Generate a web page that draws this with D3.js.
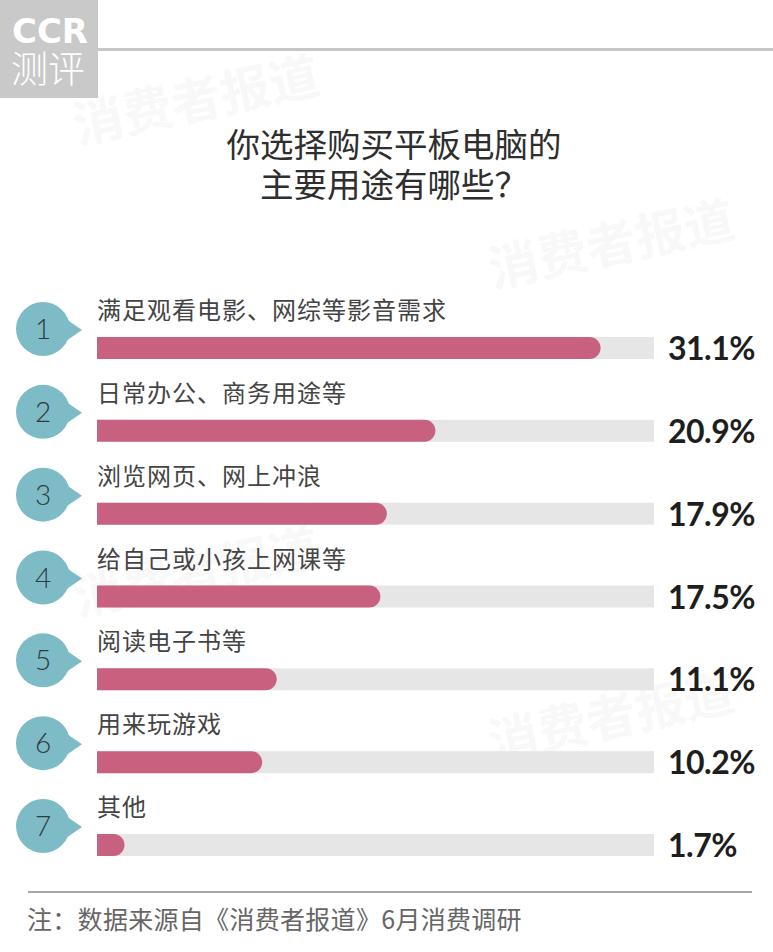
<!DOCTYPE html>
<html>
<head>
<meta charset="utf-8">
<script src="https://cdn.jsdelivr.net/npm/d3@7"></script>
<style>
  body { margin: 0; background: #fff; }
  svg { display: block; font-family: "Noto Sans CJK SC", "Noto Sans", sans-serif; }
</style>
</head>
<body>
<div id="chart"></div>
<script>
// Data
const categories = ["满足观看电影、网综等影音需求", "日常办公、商务用途等", "浏览网页、网上冲浪",
  "给自己或小孩上网课等", "阅读电子书等", "用来玩游戏", "其他"];
const values = [31.1, 20.9, 17.9, 17.5, 11.1, 10.2, 1.7];
const ranks = ["1", "2", "3", "4", "5", "6", "7"];
const titleLines = ["你选择购买平板电脑的", "主要用途有哪些？"];
const footnote = "注：数据来源自《消费者报道》6月消费调研";

const width = 773, height = 952;
const svg = d3.select("#chart").append("svg")
    .attr("width", width)
    .attr("height", height);

// faint watermarks
const marks = [[200, 118], [615, 262], [200, 590], [615, 735]];
svg.selectAll(".wm")
    .data(marks)
    .enter()
    .append("text")
    .attr("class", "wm")
    .attr("transform", d => `translate(${d[0]},${d[1]}) rotate(-12)`)
    .attr("text-anchor", "middle")
    .attr("font-size", 50)
    .attr("font-weight", "bold")
    .attr("fill", "#f8f8f8")
    .text("消费者报道");

// logo block + top rule
svg.append("rect").attr("x", 0).attr("y", 0).attr("width", 98).attr("height", 98).attr("fill", "#c9c9c9");
svg.append("rect").attr("x", 98).attr("y", 48).attr("width", width - 98).attr("height", 3).attr("fill", "#c6c6c6");
svg.append("text")
    .attr("x", 12).attr("y", 43)
    .attr("font-family", "DejaVu Sans")
    .attr("font-weight", "bold")
    .attr("font-size", 34)
    .attr("textLength", 76)
    .attr("lengthAdjust", "spacingAndGlyphs")
    .attr("fill", "#fff")
    .text("CCR");
svg.append("text")
    .attr("x", 11).attr("y", 83)
    .attr("font-size", 37)
    .attr("font-weight", 300)
    .attr("fill", "#fff")
    .text("测评");

// title
svg.selectAll(".title")
    .data(titleLines)
    .enter()
    .append("text")
    .attr("class", "title")
    .attr("x", 394)
    .attr("y", (d, i) => 157 + i * 40)
    .attr("text-anchor", "middle")
    .attr("font-size", 33.5)
    .attr("fill", "#2e2e2e")
    .text(d => d);

// scales
const x = d3.scaleLinear().domain([0, 34.4]).range([97, 654]);
const y = d3.scalePoint().domain(categories).range([337, 834]);
const barH = 22;

const rows = svg.selectAll(".row")
    .data(categories.map((c, i) => ({ cat: c, value: values[i], rank: ranks[i] })))
    .enter()
    .append("g")
    .attr("class", "row")
    .attr("transform", d => `translate(0,${y(d.cat)})`);

// speech-bubble badge
rows.append("path")
    .attr("d", "M 66 -18 L 82 -7 L 66 4 Z")
    .attr("fill", "#7dbcc6");
rows.append("circle")
    .attr("cx", 43).attr("cy", -8).attr("r", 27)
    .attr("fill", "#7dbcc6");
rows.append("text")
    .attr("x", 43).attr("y", 2)
    .attr("text-anchor", "middle")
    .attr("font-family", "Lato, 'Open Sans', sans-serif")
    .attr("font-size", 28)
    .attr("font-weight", 300)
    .attr("fill", "#2f3a3c")
    .text(d => d.rank);

// label
rows.append("text")
    .attr("x", 97).attr("y", -18)
    .attr("font-size", 24)
    .attr("letter-spacing", 1)
    .attr("fill", "#444")
    .text(d => d.cat);

// track
rows.append("rect")
    .attr("x", x(0)).attr("y", 0)
    .attr("width", x(34.4) - x(0))
    .attr("height", barH)
    .attr("fill", "#e6e6e6");

// bar with rounded right end
rows.append("path")
    .attr("fill", "#c8617f")
    .attr("d", d => {
        const x0 = x(0), x1 = x(d.value), r = barH / 2;
        return `M ${x0} 0 L ${x1 - r} 0 A ${r} ${r} 0 0 1 ${x1 - r} ${barH} L ${x0} ${barH} Z`;
    });

// value
rows.append("text")
    .attr("x", 668).attr("y", 23)
    .attr("font-family", "Lato, 'Open Sans', sans-serif")
    .attr("font-weight", "bold")
    .attr("font-size", 32)
    .attr("letter-spacing", -0.5)
    .attr("fill", "#1e1e1e")
    .text(d => d3.format(".1f")(d.value) + "%");

// footer
svg.append("line")
    .attr("x1", 28).attr("x2", 752)
    .attr("y1", 892).attr("y2", 892)
    .attr("stroke", "#8a8a8a")
    .attr("stroke-width", 1.5);
svg.append("text")
    .attr("x", 27).attr("y", 929)
    .attr("font-size", 25)
    .attr("letter-spacing", 0.3)
    .attr("fill", "#666")
    .text(footnote);
</script>
</body>
</html>
